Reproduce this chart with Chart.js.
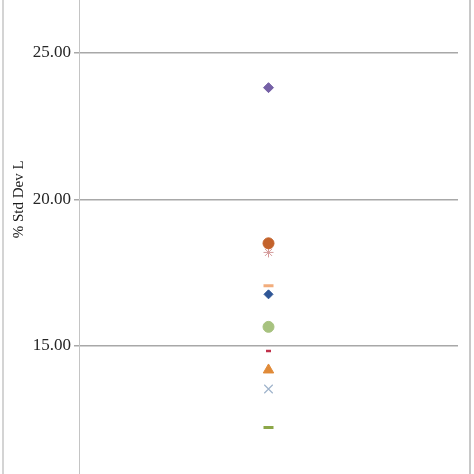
<!DOCTYPE html>
<html>
<head>
<meta charset="utf-8">
<script src="https://cdn.jsdelivr.net/npm/chart.js@4"></script>
<style>
  html, body { margin: 0; padding: 0; background: #fff; overflow: hidden; width: 474px; height: 474px; }
  #frame { position: absolute; left: 2px; top: -10px; width: 469px; height: 500px; border-left: 2px solid #d4d4d4; border-right: 2px solid #c8c8c8; box-sizing: border-box; }
  #wrap { position: absolute; left: 0; top: -107px; width: 474px; height: 640px; }
</style>
</head>
<body>
<div id="frame"></div>
<div id="wrap"><canvas id="c"></canvas></div>
<script>
const categories = [''];
const seriesNames = ['S1', 'S2', 'S3', 'S4', 'S5', 'S6', 'S7', 'S8', 'S9', 'S10'];
const seriesValues = [23.81, 18.50, 18.19, 17.05, 16.76, 15.65, 14.83, 14.18, 13.53, 12.22];
const seriesColors = ['#7560a6', '#c3622b', '#d49a9a', '#f2ad7c', '#2f5696', '#a7c27f', '#c0304a', '#e08a38', '#9fb3cb', '#8ca748'];
const seriesStyles = ['rectRot', 'circle', 'star', 'line', 'rectRot', 'circle', 'line', 'triangle', 'crossRot', 'line'];
const seriesRadius = [5, 5.5, 5, 5, 4.5, 5.5, 2.5, 6, 6, 5];
const seriesBorder = [1, 1, 1, 3, 1, 1, 2.5, 1, 1.2, 3];
const yTickValues = [10, 15, 20, 25, 30];
const yTitle = '% Std Dev L';

const datasets = seriesNames.map((name, i) => ({
  label: name,
  data: [seriesValues[i]],
  showLine: false,
  pointStyle: seriesStyles[i],
  pointRadius: seriesRadius[i],
  pointBorderWidth: seriesBorder[i],
  pointBackgroundColor: seriesColors[i],
  pointBorderColor: seriesColors[i],
  borderColor: seriesColors[i],
  backgroundColor: seriesColors[i]
}));

new Chart(document.getElementById('c'), {
  type: 'line',
  data: { labels: categories, datasets },
  options: {
    responsive: true,
    maintainAspectRatio: false,
    animation: false,
    layout: { padding: { top: 11.5, bottom: 40.5, right: 16, left: 0 } },
    plugins: { legend: { display: false }, tooltip: { enabled: false } },
    scales: {
      x: {
        type: 'category',
        offset: true,
        display: false
      },
      y: {
        min: yTickValues[0],
        max: yTickValues[yTickValues.length - 1],
        afterBuildTicks: (s) => { s.ticks = yTickValues.map(v => ({ value: v })); },
        afterFit: (s) => { s.width = 79; },
        border: { display: true, color: '#c4c4c4', width: 1 },
        grid: { color: '#a8a8a8', lineWidth: 1.5, drawTicks: true, tickLength: 5, tickColor: '#a8a8a8' },
        ticks: {
          color: '#262626',
          padding: 3,
          font: { family: '"Liberation Serif", "Times New Roman", serif', size: 17 },
          callback: (v) => Number(v).toFixed(2)
        },
        title: {
          display: true,
          text: yTitle,
          color: '#1a1a1a',
          padding: { top: 10, bottom: 0 },
          font: { family: '"Liberation Serif", "Times New Roman", serif', size: 15 }
        }
      }
    }
  }
});
</script>
</body>
</html>
